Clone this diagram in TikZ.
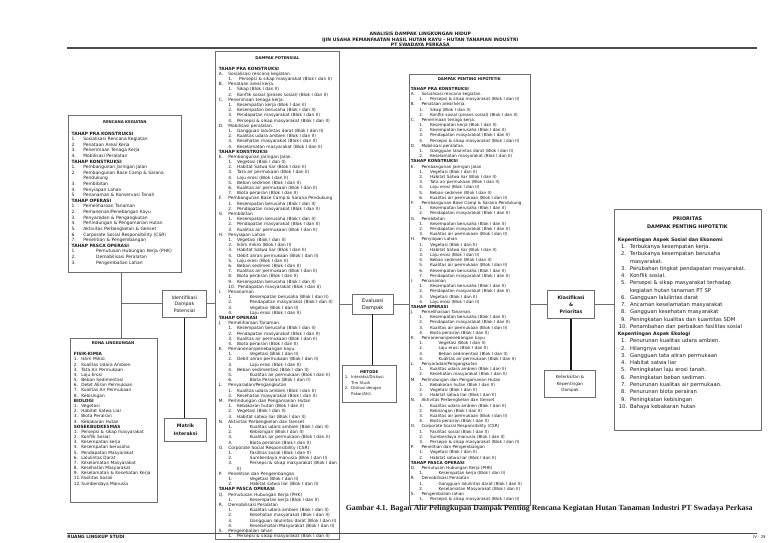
\documentclass[tikz,border=0pt]{standalone}
\usepackage{fontspec}
\setmainfont{DejaVu Sans}
\newfontfamily\capfont{Liberation Serif}
\usepackage{tikz}
\usetikzlibrary{positioning}
\definecolor{frame}{HTML}{6E6E6E}
\definecolor{ink}{HTML}{1A1A1A}
\definecolor{rulegray}{HTML}{4D4D4D}
\newlength\lwa \newlength\lwb \newlength\lwc \newlength\lwd
\newcommand{\lsHd}[1]{\textbf{#1}\\}
\newcommand{\lsLt}[2]{\makebox[\lwa][l]{#1}#2\\}
\newcommand{\lsNm}[2]{\hspace*{\lwb}\makebox[\lwc][l]{#1}#2\\}
\newcommand{\lsNw}[2]{\hspace*{\lwb}\makebox[\lwd][l]{#1}#2\\}

\begin{document}
\begin{tikzpicture}[x=1pt,y=-1pt,
  box/.style={draw=frame,line width=0.8pt,inner sep=0pt,anchor=north west},
  list/.style={anchor=north west,inner sep=0pt,align=left,text width=150pt,text=ink,font=\fontsize{3.95}{4.87}\selectfont},
  head/.style={inner sep=0pt,text=ink,font=\fontsize{3.6}{4.5}\selectfont\bfseries},
  lbl/.style={inner sep=0pt,align=center,text=ink,font=\fontsize{4.4}{6.2}\selectfont},
  link/.style={draw=frame,line width=0.6pt},
  feed/.style={draw=ink,line width=1.4pt},
]
\useasboundingbox (0,0) rectangle (720,509);

% judul halaman
\node[head,align=center,font=\fontsize{4.3}{4.9}\selectfont\bfseries] (judul) at (394,37)
  {ANALISIS DAMPAK LINGKUNGAN HIDUP\\IJIN USAHA PEMANFAATAN HASIL HUTAN KAYU - HUTAN TANAMAN INDUSTRI\\PT SWADAYA PERKASA};
\coordinate (atasL) at (63,45);
\coordinate (atasR) at (710,45);
\draw[rulegray,line width=1pt] (atasL) -- (atasR);

% kotak kotak
\node[box,minimum width=106pt,minimum height=147pt] (rencana) at (64,108) {};
\node[box,minimum width=81pt,minimum height=154pt] (rona) at (66,317) {};
\node[box,minimum width=41pt,minimum height=25pt] (ident) at (152,272) {};
\node[box,minimum width=39pt,minimum height=21pt] (matrik) at (154,392) {};
\node[box,minimum width=116pt,minimum height=457pt] (potensial) at (202,48) {};
\node[box,minimum width=38pt,minimum height=18pt] (evaluasi) at (330,276) {};
\node[box,minimum width=50pt,minimum height=35pt] (metode) at (321,342) {};
\node[box,minimum width=114pt,minimum height=404pt] (hipotetik) at (383,69) {};
\node[box,minimum width=44pt,minimum height=26pt] (klas) at (513,272) {};
\node[box,minimum width=48pt,minimum height=25pt] (kait) at (510,347) {};
\node[box,minimum width=137pt,minimum height=207pt] (prioritas) at (576,196) {};

% penghubung
\coordinate (jn) at (114,284);
\draw[link] (rencana.south -| jn) -- (rona.north -| jn);
\draw[link] (jn) -- (ident.west |- jn);
\draw[link] (ident.east |- jn) -- (potensial.west |- jn);
\draw[feed] (ident.south) -- (ident.south |- matrik.north);
\draw[link] (potensial.east |- evaluasi.west) -- (evaluasi.west);
\draw[feed] (evaluasi.south) -- (evaluasi.south |- metode.north);
\draw[link] (evaluasi.east) -- (evaluasi.east -| hipotetik.west);
\draw[link] (hipotetik.east |- klas.west) -- (klas.west);
\draw[feed] (klas.south) -- (klas.south |- kait.north);
\draw[link] (klas.east) -- (klas.east -| prioritas.west);

% kotak kecil
\node[lbl] (identtx) at (ident.center) {Identifikasi\\Dampak\\Potensial};
\node[lbl,font=\fontsize{4.4}{7}\selectfont\bfseries] (matriktx) at (matrik.center) {Matrik\\Interaksi};
\node[lbl,font=\fontsize{4.8}{6.8}\selectfont] (evaluasitx) at (evaluasi.center) {Evaluasi\\Dampak};
\node[lbl,font=\fontsize{4.4}{6.7}\selectfont\bfseries] (klastx) at (klas.center) {Klasifikasi\\\&\\Prioritas};
\node[lbl,font=\fontsize{3.9}{5.7}\selectfont] (kaittx) at (kait.center) {Keterkaitan \&\\Kepentingan\\Dampak};
\node[head] (metodehd) at (346,348.5) {METODE};
\setlength\lwb{0pt}\setlength\lwc{6pt}
\node[list,font=\fontsize{3.7}{5.2}\selectfont] (metodels) at (323,352) {%
\lsNm{1.}{Interaksi/Diskusi}
\lsNm{}{Tim Studi}
\lsNm{2.}{Diskusi dengan}
\lsNm{}{Pakar/Ahli.}};

% rencana kegiatan
\node[head] (rencanahd) at (117,114) {RENCANA KEGIATAN};
\setlength\lwb{0pt}\setlength\lwc{11pt}\setlength\lwd{23pt}
\node[list,font=\fontsize{4.15}{5.26}\selectfont] (rencanals) at (67,123.3) {%
\lsHd{TAHAP PRA KONSTRUKSI}
\lsNm{1.}{Sosialisasi Rencana Kegiatan}
\lsNm{2.}{Penataan Areal Kerja}
\lsNm{3.}{Penerimaan Tenaga Kerja}
\lsNm{4.}{Mobilisasi Peralatan}
\lsHd{TAHAP KONSTRUKSI}
\lsNm{1.}{Pembangunan Jaringan Jalan}
\lsNm{2.}{Pembangunan Base Camp \& Sarana}
\lsNm{}{Pendukung}
\lsNm{3.}{Pembibitan}
\lsNm{4.}{Penyiapan Lahan}
\lsNm{5.}{Penanaman \& Konservasi Tanah}
\lsHd{TAHAP OPERASI}
\lsNm{1.}{Pemeliharaan Tanaman}
\lsNm{2.}{Pemanenan/Penebangan Kayu}
\lsNm{3.}{Penyaradan \& Pengangkutan}
\lsNm{4.}{Perlindungan \& Pengamanan Hutan}
\lsNm{5.}{Aktivitas Perbengkelan \& Genset}
\lsNm{6.}{Corporate Social Responsibility (CSR)}
\lsNm{7.}{Penelitian \& Pengembangan}
\lsHd{TAHAP PASCA OPERASI}
\lsNw{1.}{Pemutusan Hubungan Kerja (PHK)}
\lsNw{2.}{Demobilisasi Peralatan}
\lsNw{3.}{Pengembalian Lahan}};

% rona lingkungan
\node[head] (ronahd) at (106,322) {RONA LINGKUNGAN};
\setlength\lwb{0pt}\setlength\lwc{7pt}
\node[list,font=\fontsize{4.05}{4.85}\selectfont] (ronals) at (69,330.3) {%
\lsHd{FISIK-KIMIA}
\lsNm{1.}{Iklim Mikro}
\lsNm{2.}{Kualitas Udara Ambien}
\lsNm{3.}{Tata Air Permukaan}
\lsNm{4.}{Laju Erosi}
\lsNm{5.}{Beban Sedimentasi}
\lsNm{6.}{Debit Aliran Permukaan}
\lsNm{7.}{Kualitas Air Permukaan}
\lsNm{8.}{Kebisingan}
\lsHd{BIOLOGI}
\lsNm{1.}{Vegetasi}
\lsNm{2.}{Habitat Satwa Liar}
\lsNm{3.}{Biota Perairan}
\lsNm{4.}{Kebakaran Hutan}
\lsHd{SOSEKBUDKESMAS}
\lsNm{1.}{Persepsi \& sikap masyarakat}
\lsNm{2.}{Konflik Sosial}
\lsNm{3.}{Kesempatan kerja}
\lsNm{4.}{Kesempatan berusaha}
\lsNm{5.}{Pendapatan Masyarakat}
\lsNm{6.}{Lalulintas Darat}
\lsNm{7.}{Keselamatan Masyarakat}
\lsNm{8.}{Kesehatan Masyarakat}
\lsNm{9.}{Keselamatan \& Kesehatan Kerja}
\lsNm{11.}{Fasilitas Sosial}
\lsNm{12.}{Sumberdaya Manusia}};

% dampak potensial
\node[head] (potensialhd) at (260,54) {DAMPAK POTENSIAL};
\setlength\lwa{9pt}\setlength\lwb{9pt}\setlength\lwc{8pt}\setlength\lwd{20pt}
\node[list,font=\fontsize{4.05}{4.87}\selectfont] (potensialls) at (205,62.5) {%
\lsHd{TAHAP PRA KONSTRUKSI}
\lsLt{A.}{Sosialisasi rencana kegiatan.}
\lsNm{1.}{\hspace*{2pt}Persepsi \& sikap masyarakat (Blok I dan II)}
\lsLt{B.}{Penataan areal kerja.}
\lsNm{1.}{Sikap (Blok I dan II)}
\lsNm{2.}{Konflik sosial (proses sosial) (Blok I dan II)}
\lsLt{C.}{Penerimaan tenaga kerja.}
\lsNm{1.}{Kesempatan kerja (Blok I dan II)}
\lsNm{2.}{Kesempatan berusaha (Blok I dan II)}
\lsNm{3.}{Pendapatan masyarakat (Blok I dan II)}
\lsNm{4.}{Persepsi \& sikap masyarakat (Blok I dan II)}
\lsLt{D.}{Mobilisasi peralatan.}
\lsNm{1.}{Gangguan lalulintas darat (Blok I dan II)}
\lsNm{2.}{Kualitas udara ambien (Blok I dan II)}
\lsNm{3.}{Kesehatan masyarakat (Blok I dan II)}
\lsNm{4.}{Keselamatan masyarakat (Blok I dan II)}
\lsHd{TAHAP KONSTRUKSI}
\lsLt{E.}{Pembangunan Jaringan Jalan.}
\lsNm{1.}{Vegetasi (Blok I dan II)}
\lsNm{2.}{Habitat Satwa liar (Blok I dan II)}
\lsNm{3.}{Tata air permukaan (Blok I dan II)}
\lsNm{4.}{Laju erosi (Blok I dan II)}
\lsNm{5.}{Beban sedimen (Blok I dan II)}
\lsNm{6.}{Kualitas air permukaan (Blok I dan II)}
\lsNm{7.}{Biota perairan (Blok I dan II)}
\lsLt{F.}{Pembangunan Base Camp \& Sarana Pendukung}
\lsNm{1.}{Kesempatan berusaha (Blok I dan II)}
\lsNm{2.}{Pendapatan masyarakat (Blok I dan II)}
\lsLt{G.}{Pembibitan}
\lsNm{1.}{Kesempatan berusaha (Blok I dan II)}
\lsNm{2.}{Pendapatan masyarakat (Blok I dan II)}
\lsNm{3.}{Kualitas air permukaan (Blok I dan II)}
\lsLt{H.}{Penyiapan Lahan}
\lsNm{1.}{Vegetasi (Blok I dan II)}
\lsNm{2.}{Iklim mikro (Blok I dan II)}
\lsNm{3.}{Habitat Satwa liar (Blok I dan II)}
\lsNm{4.}{Debit aliran permukaan (Blok I dan II)}
\lsNm{5.}{Laju erosi (Blok I dan II)}
\lsNm{6.}{Beban sedimen (Blok I dan II)}
\lsNm{7.}{Kualitas air permukaan (Blok I dan II)}
\lsNm{8.}{Biota perairan (Blok I dan II)}
\lsNm{9.}{Kesempatan berusaha (Blok I dan II)}
\lsNm{10.}{\hspace*{1pt}Pendapatan masyarakat (Blok I dan II)}
\lsLt{I.}{Penanaman}
\lsNw{1.}{Kesempatan berusaha (Blok I dan II)}
\lsNw{2.}{Pendapatan masyarakat (Blok I dan II)}
\lsNw{3.}{Vegetasi (Blok I dan II)}
\lsNw{4.}{Laju erosi (Blok I dan II)}
\lsHd{TAHAP OPERASI}
\lsLt{J.}{Pemeliharaan Tanaman.}
\lsNm{1.}{Kesempatan berusaha (Blok I dan II)}
\lsNm{2.}{Pendapatan masyarakat (Blok I dan II)}
\lsNm{3.}{Kualitas air permukaan (Blok I dan II)}
\lsNm{4.}{Biota perairan (Blok I dan II)}
\lsLt{K.}{Pemanenan/penebangan kayu.}
\lsNw{1.}{Vegetasi (Blok I dan II)}
\lsNm{2.}{Debit aliran permukaan (Blok I dan II)}
\lsNw{3.}{Laju erosi (Blok I dan II)}
\lsNm{4.}{Beban sedimentasi (Blok I dan II)}
\lsNw{5.}{Kualitas air permukaan (Blok I dan II)}
\lsNw{6.}{Biota Perairan (Blok I dan II)}
\lsLt{L.}{Penyaradan/Pengangkutan}
\lsNm{1.}{Kualitas udara ambien (Blok I dan II)}
\lsNm{2.}{Kesehatan masyarakat (Blok I dan II)}
\lsLt{M.}{Perlindungan dan Pengamanan Hutan}
\lsNm{1.}{Kebakaran hutan (Blok I dan II)}
\lsNm{2.}{Vegetasi (Blok I dan II)}
\lsNm{3.}{Habitat satwa liar (Blok I dan II)}
\lsLt{N.}{Aktivitas Perbengkelan dan Genset}
\lsNw{1.}{Kualitas udara ambien (Blok I dan II)}
\lsNw{2.}{Kebisingan (Blok I dan II)}
\lsNw{3.}{Kualitas air permukaan (Blok I dan II)}
\lsNw{4.}{Biota perairan (Blok I dan II)}
\lsLt{O.}{Corporate Social Responsibility (CSR)}
\lsNw{1.}{Fasilitas sosial (Blok I dan II)}
\lsNw{2.}{Sumberdaya manusia (Blok I dan II)}
\lsNw{3.}{Persepsi \& sikap masyarakat (Blok I dan}
\lsNm{}{II)}
\lsLt{P.}{Penelitian dan Pengembangan}
\lsNw{1.}{Vegetasi (Blok I dan II)}
\lsNw{2.}{Habitat satwa liar (Blok I dan II)}
\lsHd{TAHAP PASCA OPERASI}
\lsLt{Q.}{Pemutusan Hubungan Kerja (PHK)}
\lsNw{1.}{Kesempatan kerja (Blok I dan II)}
\lsLt{R.}{Demobilisasi Peralatan}
\lsNw{1.}{Kualitas udara ambien (Blok I dan II)}
\lsNw{2.}{Kesehatan masyarakat (Blok I dan II)}
\lsNw{3.}{Gangguan lalulintas darat (Blok I dan II)}
\lsNw{4.}{Keselamatan Masyarakat (Blok I dan II)}
\lsLt{S.}{Pengembalian lahan}
\lsNm{1.}{Persepsi \& sikap masyarakat (Blok I dan II)}};

% dampak penting hipotetik
\node[head] (hipotetikhd) at (440,74) {DAMPAK PENTING HIPOTETIK};
\setlength\lwa{10pt}\setlength\lwb{8pt}\setlength\lwc{10pt}\setlength\lwd{18pt}
\node[list,font=\fontsize{3.9}{4.87}\selectfont] (hipotetikls) at (385,81.5) {%
\lsHd{TAHAP PRA KONSTRUKSI}
\lsLt{A.}{Sosialisasi rencana kegiatan.}
\lsNm{1.}{Persepsi \& sikap masyarakat (Blok I dan II)}
\lsLt{B.}{Penataan areal kerja.}
\lsNm{1.}{Sikap (Blok I dan II)}
\lsNm{2.}{Konflik sosial (proses sosial) (Blok I dan II)}
\lsLt{C.}{Penerimaan tenaga kerja.}
\lsNm{1.}{Kesempatan kerja (Blok I dan II)}
\lsNm{2.}{Kesempatan berusaha (Blok I dan II)}
\lsNm{3.}{Pendapatan masyarakat (Blok I dan II)}
\lsNm{4.}{Persepsi \& sikap masyarakat (Blok I dan II)}
\lsLt{D.}{Mobilisasi peralatan.}
\lsNm{1.}{Gangguan lalulintas darat (Blok I dan II)}
\lsNm{2.}{Keselamatan masyarakat (Blok I dan II)}
\lsHd{TAHAP KONSTRUKSI}
\lsLt{E.}{Pembangunan Jaringan Jalan}
\lsNm{1.}{Vegetasi (Blok I dan II)}
\lsNm{2.}{Habitat Satwa liar (Blok I dan II)}
\lsNm{3.}{Tata air permukaan (Blok I dan II)}
\lsNm{4.}{Laju erosi (Blok I dan II)}
\lsNm{5.}{Beban sedimen (Blok I dan II)}
\lsNm{6.}{Kualitas air permukaan (Blok I dan II)}
\lsLt{F.}{Pembangunan Base Camp \& Sarana Pendukung}
\lsNm{1.}{Kesempatan berusaha (Blok I dan II)}
\lsNm{2.}{Pendapatan masyarakat (Blok I dan II)}
\lsLt{G.}{Pembibitan}
\lsNm{1.}{Kesempatan berusaha (Blok I dan II)}
\lsNm{2.}{Pendapatan masyarakat (Blok I dan II)}
\lsNm{3.}{Kualitas air permukaan (Blok I dan II)}
\lsLt{H.}{Penyiapan Lahan}
\lsNm{1.}{Vegetasi (Blok I dan II)}
\lsNm{2.}{Habitat Satwa liar (Blok I dan II)}
\lsNm{3.}{Laju erosi (Blok I dan II)}
\lsNm{4.}{Beban sedimen (Blok I dan II)}
\lsNm{5.}{Kualitas air permukaan (Blok I dan II)}
\lsNm{6.}{Kesempatan berusaha (Blok I dan II)}
\lsNm{7.}{Pendapatan masyarakat (Blok I dan II)}
\lsLt{I.}{Penanaman}
\lsNm{1.}{Kesempatan berusaha (Blok I dan II)}
\lsNm{2.}{Pendapatan masyarakat (Blok I dan II)}
\lsNm{3.}{Vegetasi (Blok I dan II)}
\lsNm{4.}{Laju erosi (Blok I dan II)}
\lsHd{TAHAP OPERASI}
\lsLt{J.}{Pemeliharaan Tanaman.}
\lsNm{1.}{Kesempatan berusaha (Blok I dan II)}
\lsNm{2.}{Pendapatan masyarakat (Blok I dan II)}
\lsNm{3.}{Kualitas air permukaan (Blok I dan II)}
\lsNm{4.}{Biota perairan (Blok I dan II)}
\lsLt{K.}{Pemanenan/penebangan kayu}
\lsNw{1.}{Vegetasi (Blok I dan II)}
\lsNw{2.}{Laju erosi (Blok I dan II)}
\lsNw{3.}{Beban sedimentasi (Blok I dan II)}
\lsNw{4.}{Kualitas air permukaan (Blok I dan II)}
\lsLt{L.}{Penyaradan/Pengangkutan}
\lsNm{1.}{Kualitas udara ambien (Blok I dan II)}
\lsNm{2.}{Kesehatan masyarakat (Blok I dan II)}
\lsLt{M.}{Perlindungan dan Pengamanan Hutan}
\lsNm{1.}{Kebakaran hutan (Blok I dan II)}
\lsNm{2.}{Vegetasi (Blok I dan II)}
\lsNm{3.}{Habitat satwa liar (Blok I dan II)}
\lsLt{N.}{Aktivitas Perbengkelan dan Genset}
\lsNm{1.}{Kualitas udara ambien (Blok I dan II)}
\lsNm{2.}{Kebisingan (Blok I dan II)}
\lsNm{3.}{Kualitas air permukaan (Blok I dan II)}
\lsNm{4.}{Biota perairan (Blok I dan II)}
\lsLt{O.}{Corporate Social Responsibility (CSR)}
\lsNm{1.}{Fasilitas sosial (Blok I dan II)}
\lsNm{2.}{Sumberdaya manusia (Blok I dan II)}
\lsNm{3.}{Persepsi \& sikap masyarakat (Blok I dan II)}
\lsLt{P.}{Penelitian dan Pengembangan}
\lsNm{1.}{Vegetasi (Blok I dan II)}
\lsNm{2.}{Habitat satwa liar (Blok I dan II)}
\lsHd{TAHAP PASCA OPERASI}
\lsLt{Q.}{Pemutusan Hubungan Kerja (PHK)}
\lsNw{1.}{Kesempatan kerja (Blok I dan II)}
\lsLt{R.}{Demobilisasi Peralatan}
\lsNw{1.}{Gangguan lalulintas darat (Blok I dan II)}
\lsNw{2.}{Keselamatan Masyarakat (Blok I dan II)}
\lsLt{S.}{Pengembalian lahan}
\lsNm{1.}{Persepsi \& sikap masyarakat (Blok I dan II)}};

% prioritas
\node[head,align=center,font=\fontsize{4.6}{8}\selectfont\bfseries] (prioritashd) at (644.5,209) {PRIORITAS\\DAMPAK PENTING HIPOTETIK};
\setlength\lwb{3pt}\setlength\lwc{8.5pt}
\node[list,font=\fontsize{4.9}{6.8}\selectfont] (prioritasls) at (579,222.8) {%
\lsHd{\fontsize{4.4}{6.8}\selectfont Kepentingan Aspek Sosial dan Ekonomi}
\lsNm{1.}{Terbukanya kesempatan kerja.}
\lsNm{2.}{Terbukanya kesempatan berusaha}
\lsNm{}{masyarakat.}
\lsNm{3.}{Perubahan tingkat pendapatan masyarakat.}
\lsNm{4.}{Konflik sosial.}
\lsNm{5.}{Persepsi \& sikap masyarakat terhadap}
\lsNm{}{kegiatan hutan tanaman PT SP}
\lsNm{6.}{Gangguan lalulintas darat}
\lsNm{7.}{Ancaman keselamatan masyarakat}
\lsNm{8.}{Gangguan kesehatan masyarakat}
\lsNm{9.}{Peningkatan kualitas dan kuantitas SDM}
\hspace*{1pt}\makebox[10.5pt][l]{10.}Penambahan dan perbaikan fasilitas sosial\\
\lsHd{\fontsize{4.4}{6.8}\selectfont Kepentingan Aspek Ekologi}
\lsNm{1.}{Penurunan kualitas udara ambien.}
\lsNm{2.}{Hilangnya vegetasi}
\lsNm{3.}{Gangguan tata aliran permukaan}
\lsNm{4.}{Habitat satwa liar}
\lsNm{5.}{Peningkatan laju erosi tanah.}
\lsNm{6.}{Peningkatan beban sedimen.}
\lsNm{7.}{Penurunan kualitas air permukaan.}
\lsNm{8.}{Penurunan biota perairan}
\lsNm{9.}{Peningkatan kebisingan}
\hspace*{1pt}\makebox[10.5pt][l]{10.}Bahaya kebakaran hutan};

% kaki halaman
\node[anchor=west,inner sep=0pt,text=ink,font=\capfont\fontsize{7.35}{9}\selectfont\bfseries] (gambar) at (324,476.5)
  {Gambar 4.1. Bagan Alir Pelingkupan Dampak Penting Rencana Kegiatan Hutan Tanaman Industri PT Swadaya Perkasa};
\coordinate (bawahL) at (63,500);
\coordinate (bawahR) at (710,500);
\draw[rulegray,line width=1pt] (bawahL) -- (bawahR);
\node[anchor=north west,inner sep=0pt,text=ink,font=\fontsize{4.1}{5}\selectfont\bfseries] (ruang) at (63,501.5) {RUANG LINGKUP STUDI};
\node[anchor=north east,inner sep=0pt,text=ink,font=\fontsize{3.6}{4.5}\selectfont] (hal) at (718,501.5) {IV - 29};
\end{tikzpicture}
\end{document}
